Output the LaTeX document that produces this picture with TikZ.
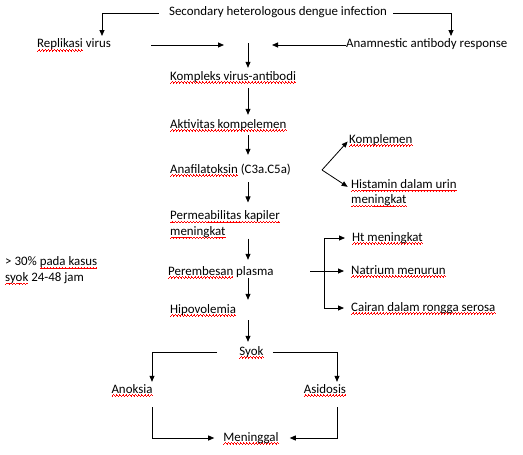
\documentclass[tikz,border=0pt]{standalone}
\usepackage{fontspec}
\setmainfont{Carlito}
\usetikzlibrary{arrows.meta}
\newsavebox\wavebox
\newsavebox\sqbox
\newcommand\sq[1]{\sbox\sqbox{#1}\leavevmode\rlap{\raisebox{-3.2pt}{\hbox to\wd\sqbox{\xleaders\copy\wavebox\hfill}}}\usebox\sqbox}
\begin{document}
\sbox\wavebox{\color{red}\rule[0pt]{0.75pt}{0.6pt}\rule[0.6pt]{0.75pt}{0.6pt}\rule[1.2pt]{0.75pt}{0.6pt}\rule[0.6pt]{0.75pt}{0.6pt}}
\begin{tikzpicture}[x=1pt,y=-1pt,
  txt/.style={inner sep=0pt,text height=9pt,text depth=3pt,font=\fontsize{12.9}{15.5}\selectfont},
  txtm/.style={inner sep=0pt,align=left,font=\fontsize{12.9}{15.5}\selectfont},
  arr/.style={-{Triangle[length=6pt,width=5pt]},line width=0.8pt}]
\useasboundingbox (0,0) rectangle (523,455);
% nodes
\node[txt] (sec) at (278,13) {Secondary heterologous dengue infection};
\node[txt,anchor=west] (rep) at (37,45) {\sq{Replikasi} virus};
\node[txt,anchor=west] (ana) at (346,45) {Anamnestic antibody response};
\node[txt,anchor=west] (kom) at (170,77) {\sq{Kompleks virus-antibodi}};
\node[txt,anchor=west] (akt) at (170,125) {\sq{Aktivitas kompelemen}};
\node[txt,anchor=west] (anaf) at (170,170) {\sq{Anafilatoksin} (C3a.C5a)};
\node[txt,anchor=west] (kpl) at (349,140) {\sq{Komplemen}};
\node[txtm,anchor=west] (his) at (351,193) {\sq{Histamin dalam urin}\\\sq{meningkat}};
\node[txtm,anchor=west] (perm) at (170,224.5) {\sq{Permeabilitas kapiler}\\\sq{meningkat}};
\node[txt,anchor=west] (pere) at (168,272) {\sq{Perembesan} plasma};
\node[txt,anchor=west] (hipo) at (170,310) {\sq{Hipovolemia}};
\node[txtm,anchor=west] (note) at (5,270.5) {> 30\% \sq{pada kasus}\\\sq{syok} 24-48 jam};
\node[txt,anchor=west] (ht) at (352,238) {\sq{Ht meningkat}};
\node[txt,anchor=west] (nat) at (351,271) {\sq{Natrium menurun}};
\node[txt,anchor=west] (cai) at (351,308) {\sq{Cairan dalam rongga serosa}};
\node[txt] (syok) at (251.5,352) {\sq{Syok}};
\node[txt] (anok) at (132,390) {\sq{Anoksia}};
\node[txt] (asid) at (325,390) {\sq{Asidosis}};
\node[txt] (men) at (251,438) {\sq{Meninggal}};
% helper coordinates
\coordinate (sp) at (248,0);
\coordinate (tl) at (102,36);
\coordinate (tr) at (451,36);
\coordinate (a1s) at (151,45);
\coordinate (a1e) at (224,45);
\coordinate (a2e) at (272,45);
\coordinate (mid) at (248,43);
\coordinate (v1) at (322,170);
\coordinate (b2) at (310,0);
\coordinate (v2) at (324,0);
\coordinate (la) at (152,0);
\coordinate (ra) at (337,0);
% connectors
\draw[arr] ([xshift=-10pt]sec.west) -| (tl);
\draw[arr] ([xshift=6pt]sec.east) -| (tr);
\draw[arr] (a1s) -- (a1e);
\draw[arr] (ana.west) -- (a2e);
\draw[arr,shorten >=3pt] (mid) -- (kom.north -| sp);
\draw[arr,shorten <=5pt,shorten >=4pt] (kom.south -| sp) -- (akt.north -| sp);
\draw[arr,shorten <=4pt,shorten >=9pt] (akt.south -| sp) -- (anaf.north -| sp);
\draw[arr,shorten <=6pt,shorten >=8pt] (anaf.south -| sp) -- (perm.north -| sp);
\draw[arr,shorten <=0pt,shorten >=6pt] (perm.south -| sp) -- (pere.north -| sp);
\draw[arr,shorten >=4pt] (pere.south -| sp) -- (hipo.north -| sp);
\draw[arr,shorten <=4pt,shorten >=4pt] (hipo.south -| sp) -- (syok.north -| sp);
\draw[arr,shorten >=2pt] (v1) -- (kpl.west);
\draw[arr,shorten >=4pt] (v1) -- ([yshift=4pt]his.west);
\draw[arr,shorten >=7pt] (nat.west -| b2) -- (nat.west);
\draw[arr,shorten >=7pt] (ht.west -| v2) -- (ht.west);
\draw[arr,shorten >=7pt] (ht.west -| v2) -- (cai.west -| v2) -- (cai.west);
\draw[arr,shorten >=2pt] ([xshift=-22pt]syok.west) -| (anok.north -| la);
\draw[arr,shorten >=2pt] ([xshift=9pt]syok.east) -| (asid.north -| ra);
\draw[arr,shorten <=11pt,shorten >=9pt] (anok.south -| la) |- (men.west);
\draw[arr,shorten <=11pt,shorten >=11pt] (asid.south -| ra) |- (men.east);
\end{tikzpicture}
\end{document}
